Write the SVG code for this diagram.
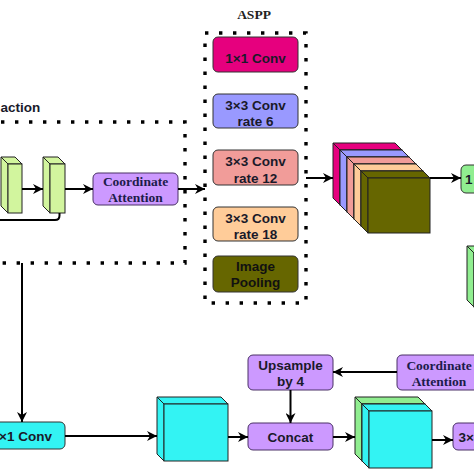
<svg xmlns="http://www.w3.org/2000/svg" width="474" height="474" viewBox="0 0 474 474">
<style>
.sans{font-family:"Liberation Sans",Arial,sans-serif;font-weight:bold;font-size:13.5px;fill:#1a1a2a}
.serif{font-family:"Liberation Serif","Times New Roman",serif;font-weight:bold;font-size:13.5px;fill:#1c1c4a}
.dots{fill:none;stroke:#000;stroke-width:3.4;stroke-dasharray:3.4 10.6}
.ln{fill:none;stroke:#000;stroke-width:2}
.pur{fill:#CC99FF;stroke:#4a3166;stroke-width:1}
.edge{stroke:#222;stroke-width:1}
</style>
<defs>
<marker id="ah" markerUnits="userSpaceOnUse" markerWidth="11" markerHeight="10" refX="10" refY="5" orient="auto">
<path d="M0,0 L10,5 L0,10 L3,5 Z" fill="#000"/>
</marker>
</defs>
<rect width="474" height="474" fill="#fff"/>

<g id="feature-extraction">
<path class="dots" d="M1,122 H185 V263 H1"/>
<text class="sans" x="0.5" y="112" font-size="13">action</text>
</g>

<g id="aspp">
<rect class="dots" x="205" y="33" width="101" height="270"/>
<text class="serif" x="254" y="19" text-anchor="middle" font-size="12.5" style="fill:#222">ASPP</text>
</g>

<g id="cuboid1" class="edge">
<path d="M1,157 L15,157 L22,164 L8,164 Z" fill="#D2F59E"/>
<path d="M1,157 L8,164 L8,213 L1,206 Z" fill="#D2F59E"/>
<rect x="8" y="164" width="14" height="49" fill="#D2F59E"/>
</g>
<g id="cuboid2" class="edge">
<path d="M43,157 L58,157 L65,164 L50,164 Z" fill="#D2F59E"/>
<path d="M43,157 L50,164 L50,213 L43,206 Z" fill="#D2F59E"/>
<rect x="50" y="164" width="15" height="49" fill="#D2F59E"/>
</g>

<g id="coord-att-1">
<rect class="pur" x="93" y="173" width="85" height="32" rx="5"/>
<text class="serif" x="135.5" y="185.5" text-anchor="middle">Coordinate</text>
<text class="serif" x="135.5" y="202" text-anchor="middle">Attention</text>
</g>

<g id="conv1x1" stroke="#333" stroke-width="1">
<rect x="213" y="37" width="85" height="35" rx="5" fill="#E6007E"/>
<text class="sans" x="255.5" y="63" text-anchor="middle" stroke="none">1×1 Conv</text>
</g>
<g id="conv-rate6" stroke="#333" stroke-width="1">
<rect x="213" y="94" width="85" height="34" rx="5" fill="#9999FF"/>
<text class="sans" x="255.5" y="109.5" text-anchor="middle" stroke="none">3×3 Conv</text>
<text class="sans" x="255.5" y="126" text-anchor="middle" stroke="none">rate 6</text>
</g>
<g id="conv-rate12" stroke="#333" stroke-width="1">
<rect x="213" y="150" width="85" height="35" rx="5" fill="#F19C99"/>
<text class="sans" x="255.5" y="166" text-anchor="middle" stroke="none">3×3 Conv</text>
<text class="sans" x="255.5" y="182.5" text-anchor="middle" stroke="none">rate 12</text>
</g>
<g id="conv-rate18" stroke="#333" stroke-width="1">
<rect x="213" y="207" width="85" height="34" rx="5" fill="#FFCC99"/>
<text class="sans" x="255.5" y="223" text-anchor="middle" stroke="none">3×3 Conv</text>
<text class="sans" x="255.5" y="239" text-anchor="middle" stroke="none">rate 18</text>
</g>
<g id="image-pooling" stroke="#333" stroke-width="1">
<rect x="213" y="256" width="85" height="36" rx="5" fill="#666600"/>
<text class="sans" x="255.5" y="271" text-anchor="middle" stroke="none" style="fill:#111">Image</text>
<text class="sans" x="255.5" y="287" text-anchor="middle" stroke="none" style="fill:#111">Pooling</text>
</g>

<g id="stacked-features" class="edge">
<g fill="#E6007E">
<path d="M333,143 L395,143 L402,150 L340,150 Z"/><path d="M333,143 L340,150 L340,205 L333,198 Z"/><rect x="340" y="150" width="62" height="55"/>
</g>
<g fill="#9999FF">
<path d="M340,150 L402,150 L409,157 L347,157 Z"/><path d="M340,150 L347,157 L347,212 L340,205 Z"/><rect x="347" y="157" width="62" height="55"/>
</g>
<g fill="#F19C99">
<path d="M347,157 L409,157 L416,164 L354,164 Z"/><path d="M347,157 L354,164 L354,219 L347,212 Z"/><rect x="354" y="164" width="62" height="55"/>
</g>
<g fill="#FFCC99">
<path d="M354,164 L416,164 L423,171 L361,171 Z"/><path d="M354,164 L361,171 L361,226 L354,219 Z"/><rect x="361" y="171" width="62" height="55"/>
</g>
<g fill="#666600">
<path d="M361,171 L423,171 L430,178 L368,178 Z"/><path d="M361,171 L368,178 L368,233 L361,226 Z"/><rect x="368" y="178" width="62" height="55"/>
</g>
</g>

<g id="conv1x1-right" stroke="#333" stroke-width="1">
<rect x="461" y="165" width="40" height="28" rx="5" fill="#90EE90"/>
<text class="sans" x="465" y="184" stroke="none">1</text>
</g>

<g id="green-cuboid-right" class="edge" fill="#90EE90">
<path d="M467,246 L500,246 L507,253 L474,253 Z"/>
<path d="M467,246 L474,253 L474,307 L467,300 Z"/>
<rect x="474" y="253" width="33" height="54"/>
</g>

<g id="conv1x1-low" stroke="#333" stroke-width="1">
<rect x="-20" y="422" width="85" height="27" rx="5" fill="#33F3F3"/>
<text class="sans" x="52" y="440.5" text-anchor="end" stroke="none" font-size="13">×1 Conv</text>
</g>

<g id="cyan-cube" class="edge" fill="#33F3F3">
<path d="M157,397 L221,397 L228,404 L164,404 Z"/>
<path d="M157,397 L164,404 L164,461 L157,454 Z"/>
<rect x="164" y="404" width="64" height="57"/>
</g>

<g id="upsample">
<rect class="pur" x="248" y="355" width="85" height="35" rx="5"/>
<text class="sans" x="290.5" y="370" text-anchor="middle">Upsample</text>
<text class="sans" x="290.5" y="386" text-anchor="middle">by 4</text>
</g>

<g id="concat">
<rect class="pur" x="248" y="423" width="85" height="27" rx="5"/>
<text class="sans" x="290.5" y="441.5" text-anchor="middle">Concat</text>
</g>

<g id="coord-att-2">
<rect class="pur" x="397" y="355" width="90" height="35" rx="5"/>
<text class="serif" x="439" y="370" text-anchor="middle">Coordinate</text>
<text class="serif" x="439" y="385.5" text-anchor="middle">Attention</text>
</g>

<g id="concat-cube" class="edge">
<g fill="#90EE90">
<path d="M355,397 L418,397 L425,404 L362,404 Z"/><path d="M355,397 L362,404 L362,461 L355,454 Z"/><rect x="362" y="404" width="63" height="57"/>
</g>
<g fill="#33F3F3">
<path d="M362,404 L425,404 L432,411 L369,411 Z"/><path d="M362,404 L369,411 L369,468 L362,461 Z"/><rect x="369" y="411" width="63" height="57"/>
</g>
</g>

<g id="conv3x3-low">
<rect class="pur" x="453" y="423" width="40" height="27" rx="5"/>
<text class="sans" x="458.5" y="441.5" font-size="13">3×</text>
</g>

<g id="connectors">
<line class="ln" x1="22" y1="189" x2="43" y2="189" marker-end="url(#ah)"/>
<line class="ln" x1="65" y1="189" x2="93" y2="189" marker-end="url(#ah)"/>
<line class="ln" x1="178" y1="189" x2="205" y2="189" marker-end="url(#ah)"/>
<line class="ln" x1="306" y1="178" x2="333" y2="178" marker-end="url(#ah)"/>
<line class="ln" x1="430" y1="178" x2="461" y2="178" marker-end="url(#ah)"/>
<path class="ln" d="M0,220 H55 Q59.5,220 59.5,215.5 V213"/>
<line class="ln" x1="22" y1="263" x2="22" y2="422" marker-end="url(#ah)"/>
<line class="ln" x1="65" y1="436" x2="157" y2="436" marker-end="url(#ah)"/>
<line class="ln" x1="228" y1="437" x2="248" y2="437" marker-end="url(#ah)"/>
<line class="ln" x1="290.5" y1="390" x2="290.5" y2="423" marker-end="url(#ah)"/>
<line class="ln" x1="397" y1="372" x2="333" y2="372" marker-end="url(#ah)"/>
<line class="ln" x1="333" y1="437" x2="355" y2="437" marker-end="url(#ah)"/>
<line class="ln" x1="432" y1="440" x2="453" y2="440" marker-end="url(#ah)"/>
</g>
</svg>
